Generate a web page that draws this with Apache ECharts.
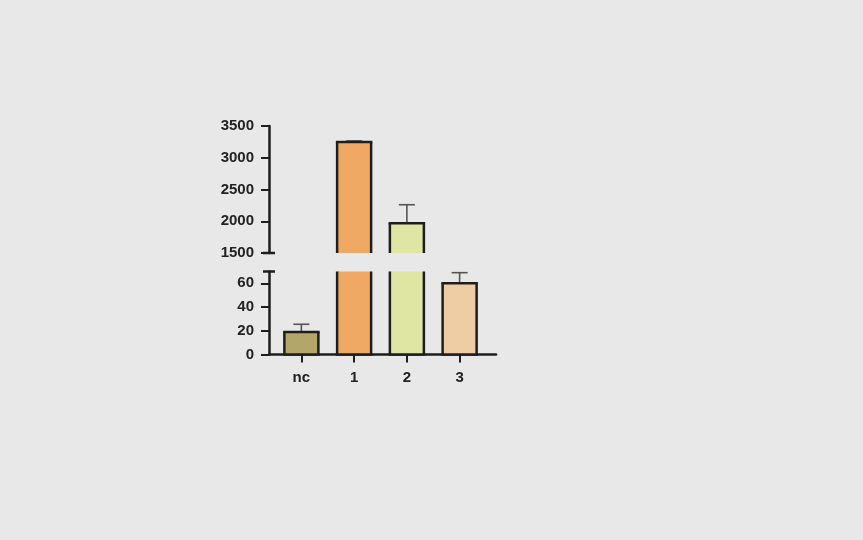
<!DOCTYPE html>
<html>
<head>
<meta charset="utf-8">
<script src="https://cdn.jsdelivr.net/npm/echarts@6/dist/echarts.min.js"></script>
<style>
  html, body { margin: 0; padding: 0; background: #e8e8e8; }
  #main { width: 863px; height: 540px; }
</style>
</head>
<body>
<div id="main"></div>
<script>
// groups and their means / upper error
var categories = ['nc', '1', '2', '3'];
var means = [19, 3250, 1970, 60];
var errUp = [6.5, 15, 290, 9];
var barColors = ['#b3a66b', '#f0a865', '#dfe6a4', '#eecda5'];

// axis segments of the broken y axis
var lowMin = 0, lowMax = 70, lowStep = 20;
var highMin = 1500, highMax = 3500, highStep = 500;

var ink = '#1e1e1e';
var bg = '#e8e8e8';
var labelFont = { color: '#222', fontWeight: 'bold', fontSize: 15, fontFamily: 'Liberation Sans, Arial' };

function barData() {
    return means.map(function (v, i) { return [i, v]; });
}

function errData(part) {
    var out = [];
    for (var i = 0; i < means.length; i++) {
        var inHigh = means[i] >= highMin;
        if ((part === 'high') === inHigh) out.push([i, means[i], means[i] + errUp[i]]);
    }
    return out;
}

// bars cut by the panel edge: fill clamped to the panel, border only on real edges
function renderBar(params, api) {
    var cs = params.coordSys;
    var i = api.value(0);
    var top = api.coord([i, api.value(1)]);
    var base = api.coord([i, 0]);
    var w = 34;
    var x0 = top[0] - w / 2, x1 = top[0] + w / 2;
    var yTop = Math.max(top[1], cs.y);
    var yBot = Math.min(base[1], cs.y + cs.height);
    if (yBot <= yTop) return;
    var line = function (ax, ay, bx, by) {
        return { type: 'line', shape: { x1: ax, y1: ay, x2: bx, y2: by },
            style: { stroke: ink, lineWidth: 2.5 } };
    };
    var kids = [{
        type: 'rect',
        shape: { x: x0, y: yTop, width: w, height: yBot - yTop },
        style: { fill: barColors[i] }
    }, line(x0, yTop, x0, yBot), line(x1, yTop, x1, yBot)];
    if (top[1] >= cs.y) kids.push(line(x0 - 1.25, yTop, x1 + 1.25, yTop));
    if (base[1] <= cs.y + cs.height) kids.push(line(x0 - 1.25, yBot, x1 + 1.25, yBot));
    return { type: 'group', children: kids };
}

function renderErr(params, api) {
    var x = api.value(0);
    var lo = api.coord([x, api.value(1)]);
    var hi = api.coord([x, api.value(2)]);
    var cap = 8;
    return {
        type: 'group',
        children: [{
            type: 'line',
            shape: { x1: lo[0], y1: lo[1], x2: hi[0], y2: hi[1] },
            style: { stroke: '#555', lineWidth: 1.6 }
        }, {
            type: 'line',
            shape: { x1: hi[0] - cap, y1: hi[1], x2: hi[0] + cap, y2: hi[1] },
            style: { stroke: '#555', lineWidth: 1.6 }
        }]
    };
}

var plain = function (v) { return String(v); };

var option = {
    animation: false,
    grid: [
        { left: 275, width: 211, top: 126, height: 127 },
        { left: 275, width: 211, top: 271.5, height: 83 },
        // frame for the long x axis line of the bottom panel
        { left: 269, width: 227, top: 271.5, height: 83 }
    ],
    // keep the break between the two panels plain background
    graphic: [{
        type: 'rect', left: 280, top: 255, zlevel: 1, z: 100, silent: true,
        shape: { width: 216, height: 15 },
        style: { fill: bg }
    }],
    xAxis: [{
        type: 'category', gridIndex: 0, data: categories,
        axisLine: { show: false }, axisTick: { show: false }, axisLabel: { show: false }
    }, {
        type: 'category', gridIndex: 1, data: categories,
        axisLine: { show: false },
        axisTick: { show: true, alignWithLabel: true, length: 8, lineStyle: { color: ink, width: 2 } },
        axisLabel: Object.assign({}, labelFont, { margin: 16 })
    }, {
        type: 'value', gridIndex: 2, min: 0, max: 1,
        axisLine: { show: true, onZero: false, lineStyle: { color: ink, width: 2.5 } },
        axisTick: { show: false }, axisLabel: { show: false }, splitLine: { show: false }
    }],
    yAxis: [{
        type: 'value', gridIndex: 0, min: highMin, max: highMax, interval: highStep,
        offset: 6,
        axisLine: { show: true, onZero: false, lineStyle: { color: ink, width: 2.5 },
            symbol: ['rect', 'none'], symbolSize: [12, 2.5] },
        axisTick: { show: true, length: 8, lineStyle: { color: ink, width: 2 } },
        axisLabel: Object.assign({ margin: 15, formatter: plain }, labelFont),
        splitLine: { show: false }
    }, {
        type: 'value', gridIndex: 1, min: lowMin, max: lowMax, interval: lowStep,
        offset: 6,
        axisLine: { show: true, onZero: false, lineStyle: { color: ink, width: 2.5 },
            symbol: ['none', 'rect'], symbolSize: [12, 2.5] },
        axisTick: { show: true, length: 8, lineStyle: { color: ink, width: 2 } },
        axisLabel: Object.assign({ margin: 15, showMaxLabel: false, formatter: plain }, labelFont),
        splitLine: { show: false }
    }, {
        type: 'value', gridIndex: 2, show: false
    }],
    series: [{
        type: 'custom', xAxisIndex: 1, yAxisIndex: 1, clip: false,
        renderItem: renderErr, data: errData('low')
    }, {
        type: 'custom', xAxisIndex: 0, yAxisIndex: 0, clip: false,
        renderItem: renderErr, data: errData('high')
    }, {
        type: 'custom', xAxisIndex: 0, yAxisIndex: 0, clip: false,
        renderItem: renderBar, data: barData()
    }, {
        type: 'custom', xAxisIndex: 1, yAxisIndex: 1, clip: false,
        renderItem: renderBar, data: barData()
    }]
};

var chart = echarts.init(document.getElementById('main'));
chart.setOption(option);
</script>
</body>
</html>
